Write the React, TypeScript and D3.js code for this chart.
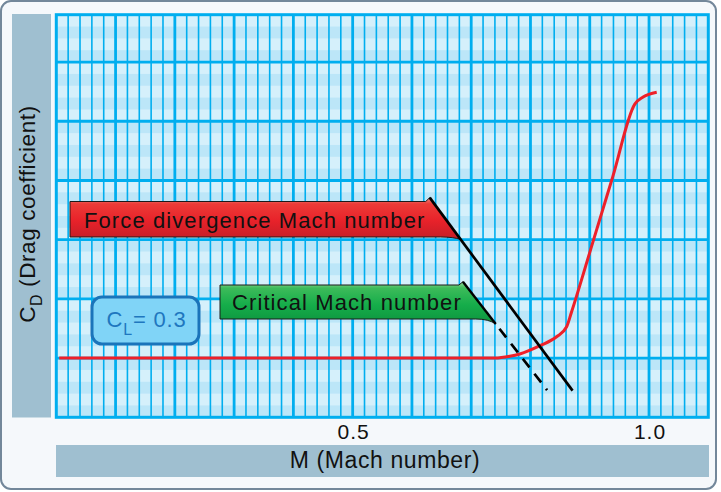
import React from "react";
import * as d3 from "d3";

// ---------- data ----------
const xTickValues = [0.5, 1.0];
const xTickLabels = ["0.5", "1.0"];
const curveMach = [0.005, 0.74, 0.765, 0.782, 0.816, 0.844, 0.861, 0.869, 0.905, 0.939, 0.976, 0.99, 1.013];
const curveCd = [1.0, 1.0, 1.03, 1.07, 1.21, 1.36, 1.53, 1.77, 2.95, 4.07, 5.29, 5.41, 5.49];
const forceDivergenceLine: [number, number][] = [[0.63, 3.71], [0.871, 0.45]];
const criticalMachLine: [number, number][] = [[0.686, 2.29], [0.828, 0.46]];
const forceLabel = "Force divergence Mach number";
const criticalLabel = "Critical Mach number";
const clLabelValue = "= 0.3";
const xAxisTitle = "M (Mach number)";
const yAxisTitleRest = " (Drag coefficient)";

// ---------- layout ----------
const W = 721;
const H = 492;
const PL = 56.3, PR = 708.3, PT = 14.7, PB = 417.3;
const FONT = "'Liberation Sans', Arial, Helvetica, sans-serif";

const x = d3.scaleLinear().domain([0, 1.1]).range([PL, PR]);
const y = d3.scaleLinear().domain([0, 6.8]).range([PB, PT]);

function xAtY(line: [number, number][], py: number) {
  const x0 = x(line[0][0]), y0 = y(line[0][1]);
  const x1 = x(line[1][0]), y1 = y(line[1][1]);
  const t = (py - y0) / (y1 - y0);
  return x0 + t * (x1 - x0);
}

function flagPath(left: number, top: number, bottom: number, line: [number, number][], pointY: number) {
  const tx = x(line[0][0]);
  const ty = y(line[0][1]);
  const px = xAtY(line, pointY);
  return `M${left},${top} L${tx - 4},${top} L${tx},${ty} L${px},${pointY} Q${px - 7},${bottom} ${px - 20},${bottom} L${left},${bottom} Z`;
}

export default function App() {
  const minorIdx = d3.range(1, 55);
  const bands = d3.range(0, 34);
  const majorH = d3.range(1, 7);

  const curvePts: [number, number][] = curveMach.map((m, i) => [m, curveCd[i]]);
  const lineGen = d3
    .line<[number, number]>()
    .x((d) => x(d[0]))
    .y((d) => y(d[1]))
    .curve(d3.curveMonotoneX);

  const redTop = 201.5, redBottom = 237, redLeft = 70, redPointY = 239.5;
  const grnTop = 285, grnBottom = 319, grnLeft = 220, grnPointY = 324;

  const critPx = xAtY(criticalMachLine, grnPointY);

  return (
    <svg
      width={W}
      height={H}
      style={{ position: "absolute", left: 0, top: 0, background: "#ffffff" }}
      fontFamily={FONT}
    >
      <defs>
        <clipPath id="plotClip">
          <rect x={PL} y={PT} width={PR - PL} height={PB - PT} />
        </clipPath>
        <linearGradient id="redGrad" x1="0" y1="0" x2="0" y2="1">
          <stop offset="0%" stopColor="#f28a84" />
          <stop offset="15%" stopColor="#ec3b37" />
          <stop offset="55%" stopColor="#e8222a" />
          <stop offset="100%" stopColor="#c41e27" />
        </linearGradient>
        <linearGradient id="greenGrad" x1="0" y1="0" x2="0" y2="1">
          <stop offset="0%" stopColor="#98d896" />
          <stop offset="15%" stopColor="#3dbb5a" />
          <stop offset="55%" stopColor="#15ad4a" />
          <stop offset="100%" stopColor="#0e943f" />
        </linearGradient>
      </defs>

      {/* outer frame */}
      <rect x={1} y={1} width={715} height={488} rx={10} fill="#f5f8fb" stroke="#73879a" strokeWidth={2} />

      {/* axis title boxes */}
      <rect x={12} y={14} width={39} height={403.5} fill="#9fbfd0" />
      <rect x={56} y={445} width={653} height={32} fill="#9fbfd0" />

      {/* grid */}
      <g clipPath="url(#plotClip)">
        <rect x={PL} y={PT} width={PR - PL} height={PB - PT} fill="#d5f0fb" />
        {bands.map((j) =>
          j % 2 === 0 ? (
            <rect
              key={"b" + j}
              x={PL}
              width={PR - PL}
              y={y((j + 1) * 0.2)}
              height={y(j * 0.2) - y((j + 1) * 0.2)}
              fill="#bce6f8"
            />
          ) : null
        )}
        {minorIdx.map((i) => (
          <line
            key={"v" + i}
            x1={x(i * 0.02)}
            x2={x(i * 0.02)}
            y1={PT}
            y2={PB}
            stroke="#00aeef"
            strokeWidth={i % 5 === 0 ? 2.8 : 1.6}
          />
        ))}
        {majorH.map((k) => (
          <line key={"h" + k} x1={PL} x2={PR} y1={y(k)} y2={y(k)} stroke="#00aeef" strokeWidth={2.8} />
        ))}
      </g>
      <rect x={PL} y={PT} width={PR - PL} height={PB - PT} fill="none" stroke="#00aeef" strokeWidth={3} />

      {/* drag curve */}
      <path d={lineGen(curvePts) || ""} fill="none" stroke="#ee2029" strokeWidth={3} strokeLinejoin="round" />

      {/* flags */}
      <path
        d={flagPath(redLeft, redTop, redBottom, forceDivergenceLine, redPointY)}
        fill="url(#redGrad)"
        stroke="#1a1a1a"
        strokeWidth={1}
      />
      <text x={84} y={228} fontSize={22} letterSpacing={1.1} fill="#111">
        {forceLabel}
      </text>
      <path
        d={flagPath(grnLeft, grnTop, grnBottom, criticalMachLine, grnPointY)}
        fill="url(#greenGrad)"
        stroke="#1a1a1a"
        strokeWidth={1}
      />
      <text x={232} y={310} fontSize={22} letterSpacing={1.1} fill="#111">
        {criticalLabel}
      </text>

      {/* Mach lines */}
      <line
        x1={x(forceDivergenceLine[0][0])}
        y1={y(forceDivergenceLine[0][1])}
        x2={x(forceDivergenceLine[1][0])}
        y2={y(forceDivergenceLine[1][1])}
        stroke="#000"
        strokeWidth={2.7}
      />
      <line
        x1={x(criticalMachLine[0][0])}
        y1={y(criticalMachLine[0][1])}
        x2={critPx}
        y2={grnPointY}
        stroke="#000"
        strokeWidth={2.4}
      />
      <line
        x1={critPx}
        y1={grnPointY}
        x2={x(criticalMachLine[1][0])}
        y2={y(criticalMachLine[1][1])}
        stroke="#000"
        strokeWidth={2.7}
        strokeDasharray="11,8"
        strokeDashoffset={-6}
      />

      {/* C_L box */}
      <rect x={92} y={297} width={107} height={47} rx={10} fill="#80d4f7" stroke="#1b74ba" strokeWidth={3} />
      <text x={106.5} y={326.7} fontSize={22} fill="#1f77bf" letterSpacing={0.8}>
        C
        <tspan fontSize={16} dy={8}>
          L
        </tspan>
        <tspan dy={-8} fontSize={22}>
          {clLabelValue}
        </tspan>
      </text>

      {/* x tick labels */}
      {xTickValues.map((v, i) => (
        <text key={"t" + i} x={x(v) + 1} y={439} fontSize={21} letterSpacing={1} textAnchor="middle" fill="#111">
          {xTickLabels[i]}
        </text>
      ))}

      {/* axis titles */}
      <text x={385} y={468} fontSize={23} letterSpacing={0.6} textAnchor="middle" fill="#111">
        {xAxisTitle}
      </text>
      <text
        transform="translate(35,214) rotate(-90)"
        fontSize={22.5}
        letterSpacing={0.6}
        textAnchor="middle"
        fill="#111"
      >
        C
        <tspan fontSize={16} dy={7}>
          D
        </tspan>
        <tspan dy={-7} fontSize={22.5}>
          {yAxisTitleRest}
        </tspan>
      </text>
    </svg>
  );
}
